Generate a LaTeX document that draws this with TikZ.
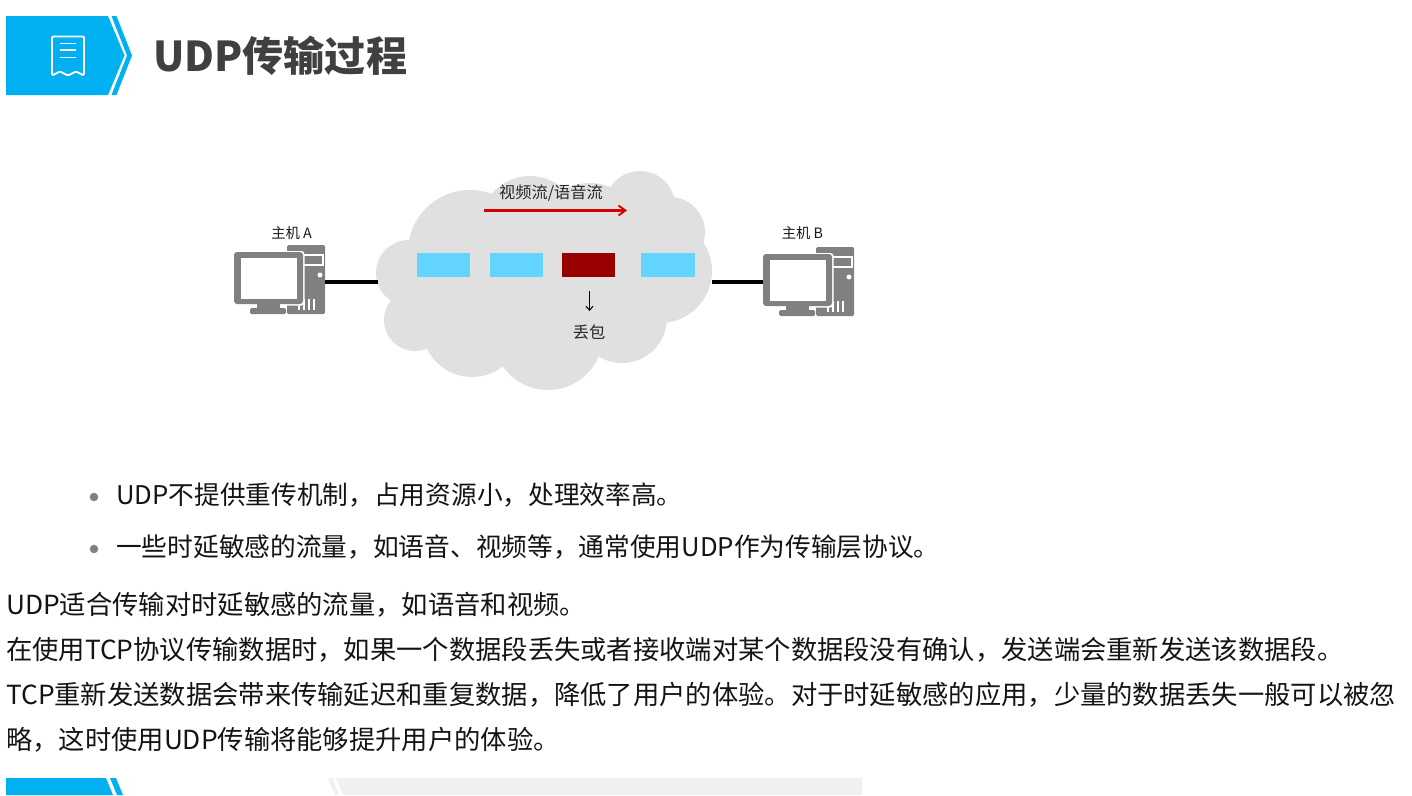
\documentclass[tikz,border=0pt]{standalone}
\usepackage{fontspec}
\setmainfont{Noto Sans CJK SC}
\usetikzlibrary{arrows.meta}
\definecolor{banner}{HTML}{00B0F0}
\definecolor{cloudgray}{HTML}{E0E0E0}
\definecolor{pktblue}{HTML}{63D4FF}
\definecolor{pktred}{HTML}{990000}
\definecolor{icongray}{HTML}{808080}
\definecolor{titlegray}{HTML}{404040}
\definecolor{stripgray}{HTML}{F0F0F0}
\definecolor{flowred}{HTML}{D40000}
\tikzset{
  x=1pt,y=-1pt,
  packet/.style={fill=#1,draw=none},
  body/.style={anchor=west,inner sep=0pt,font=\fontsize{26.3}{30}\selectfont,text=black!92},
  bulletbody/.style={anchor=west,inner sep=0pt,font=\fontsize{25.7}{30}\selectfont,text=black!92},
  small/.style={inner sep=0pt,font=\fontsize{16.2}{18}\selectfont,text=black!85},
  hostlabel/.style={inner sep=0pt,font=\fontsize{14.3}{16}\selectfont,text=black!90},
  link/.style={line width=3.5pt,black},
  bullet/.style={circle,fill=icongray,minimum size=8.5pt,inner sep=0pt,draw=none},
  pics/computer/.style={code={
    \fill[icongray,rounded corners=1.5pt] (53,0) rectangle (91,69);
    \draw[white,line width=1.3pt] (69,10) rectangle (89,20);
    \fill[white] (86,30) circle (2.5);
    \foreach \vx in {65,70,75,80}{\draw[white,line width=1.2pt] (\vx,54) -- (\vx,65);}
    \fill[white,rounded corners=3pt] (-1,6) rectangle (70.5,60.5);
    \fill[icongray,rounded corners=3pt] (0,7) rectangle (69,59);
    \fill[white] (6.5,13) rectangle (63,54);
    \fill[icongray] (23,59) rectangle (46,63);
    \fill[icongray,rounded corners=1.5pt] (16,63) rectangle (52,69);
  }}
}
\begin{document}
\begin{tikzpicture}
\useasboundingbox (0,0) rectangle (1412,795);
\fill[white] (0,0) rectangle (1412,795);
% header banner
\fill[banner] (6,16) -- (108,16) -- (124.5,55.5) -- (108,95) -- (6,95) -- cycle;
\fill[banner] (111.5,16) -- (116.5,16) -- (132,55.5) -- (116.5,95) -- (111.5,95) -- (127,55.5) -- cycle;
\draw[white,line width=1.8pt,line join=round,rounded corners=1pt]
  (52,36.5) -- (84,36.5) -- (84,75) .. controls (80,75) and (80,72) .. (76,72) .. controls (72,72) and (72,75) .. (68,75) .. controls (64,75) and (64,72) .. (60,72) .. controls (56,72) and (56,75) .. (52,75) -- cycle;
\foreach \ly in {43.5,50,57.5}{\draw[white,line width=1.8pt] (60,\ly) -- (76,\ly);}
\node[anchor=west,inner sep=0pt,text=titlegray,font=\fontsize{41.1}{46}\selectfont\bfseries] (title) at (153,56) {UDP传输过程};
% cloud
\fill[cloudgray]
  (470,252) circle (62)
  (409,273) circle (33)
  (415,320) circle (31)
  (472,327) circle (50)
  (548,335) circle (55)
  (622,318) circle (45)
  (660,271) circle (52)
  (670,232) circle (35)
  (640,206) circle (35)
  (530,226) circle (50)
  (590,235) circle (52)
  (550,280) circle (80);
% links and hosts
\pic at (234,245) {computer};
\pic at (763,247) {computer};
\coordinate (hostA) at (325,282);
\coordinate (hostB) at (763,282);
\coordinate (cloudL) at (378,282);
\coordinate (cloudR) at (712,282);
\draw[link] (hostA) -- (cloudL);
\draw[link] (cloudR) -- (hostB);
\node[hostlabel] (labelA) at (291.5,233) {主机 A};
\node[hostlabel] (labelB) at (802.5,233) {主机 B};
% flow
\node[small] (flow) at (551,193.5) {视频流/语音流};
\coordinate (flowS) at (484,210.5);
\coordinate (flowE) at (627,210.5);
\draw[flowred,line width=2.2pt,-{Straight Barb[length=7pt,width=10pt,line width=1.8pt]}] (flowS) -- (flowE);
% packets
\node[packet=pktblue,minimum width=53pt,minimum height=24pt,inner sep=0pt] (p1) at (443.7,264.7) {};
\node[packet=pktblue,minimum width=53pt,minimum height=24pt,inner sep=0pt] (p2) at (516.4,264.7) {};
\node[packet=pktred,minimum width=53pt,minimum height=24pt,inner sep=0pt] (p3) at (588.7,264.7) {};
\node[packet=pktblue,minimum width=54pt,minimum height=24pt,inner sep=0pt] (p4) at (668,264.7) {};
\node[small] (lost) at (589,332.5) {丢包};
\coordinate (lossS) at (589.5,291);
\coordinate (lossE) at (589.5,311);
\draw[black,line width=1.2pt,-{Straight Barb[length=4pt,width=7pt,line width=1pt]}] (lossS) -- (lossE);
% bullets
\node[bullet] (b1) at (94,497) {};
\node[bullet] (b2) at (94,549) {};
\node[bulletbody] (t1) at (116,495) {UDP不提供重传机制，占用资源小，处理效率高。};
\node[bulletbody] (t2) at (116,547) {一些时延敏感的流量，如语音、视频等，通常使用UDP作为传输层协议。};
\node[body] (t3) at (6,605) {UDP适合传输对时延敏感的流量，如语音和视频。};
\node[body] (t4) at (6,650) {在使用TCP协议传输数据时，如果一个数据段丢失或者接收端对某个数据段没有确认，发送端会重新发送该数据段。};
\node[body] (t5) at (6,695) {TCP重新发送数据会带来传输延迟和重复数据，降低了用户的体验。对于时延敏感的应用，少量的数据丢失一般可以被忽};
\node[body] (t6) at (6,740) {略，这时使用UDP传输将能够提升用户的体验。};
% bottom strip
\fill[banner] (6,778) -- (106,778) -- (113,795) -- (6,795) -- cycle;
\fill[banner] (110,778) -- (116,778) -- (123,795) -- (117,795) -- cycle;
\fill[stripgray] (328,778) -- (332,778) -- (339,795) -- (335,795) -- cycle;
\fill[stripgray] (336,778) -- (862,778) -- (862,795) -- (343,795) -- cycle;
\end{tikzpicture}
\end{document}
